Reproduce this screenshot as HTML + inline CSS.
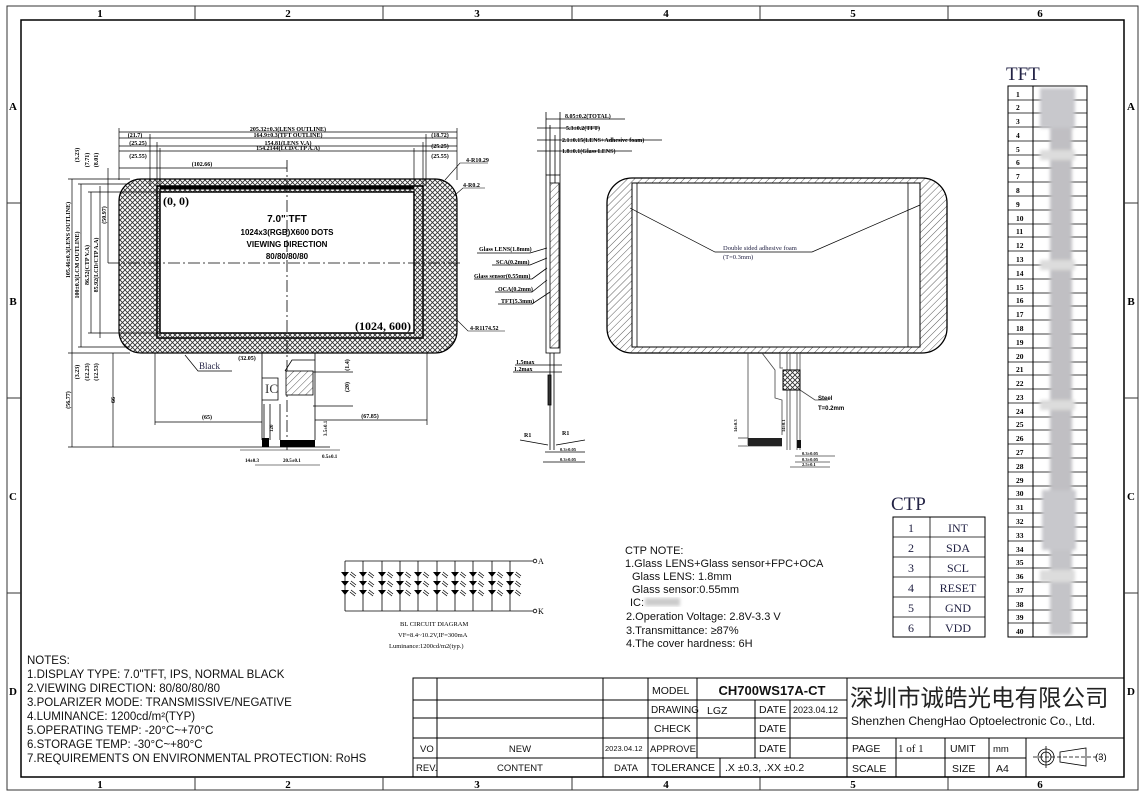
<!DOCTYPE html>
<html><head><meta charset="utf-8"><style>
html,body{margin:0;padding:0;background:#fff;}
svg{display:block;}
.s{font-family:"Liberation Serif",serif;}
.a{font-family:"Liberation Sans",sans-serif;}
</style></head><body>
<svg width="1145" height="801" viewBox="0 0 1145 801" xmlns="http://www.w3.org/2000/svg">
<defs>
<pattern id="xh" width="5" height="5" patternUnits="userSpaceOnUse">
<rect width="5" height="5" fill="#fff"/>
<path d="M0,0L5,5M5,0L0,5" stroke="#333" stroke-width="0.9"/>
</pattern>
<pattern id="hh" width="5" height="5" patternUnits="userSpaceOnUse" patternTransform="rotate(45)">
<rect width="5" height="5" fill="#fff"/>
<line x1="0" y1="0" x2="0" y2="5" stroke="#333" stroke-width="0.8"/>
</pattern>
<filter id="bl"><feGaussianBlur stdDeviation="1.5"/></filter>
</defs>

<!-- frame -->
<rect x="7" y="6" width="1131" height="784" fill="none" stroke="#333" stroke-width="1"/>
<rect x="21" y="20" width="1103" height="757" fill="none" stroke="#000" stroke-width="1.5"/>
<g stroke="#333" stroke-width="1">
<line x1="195" y1="6" x2="195" y2="20"/><line x1="383" y1="6" x2="383" y2="20"/><line x1="572" y1="6" x2="572" y2="20"/><line x1="760" y1="6" x2="760" y2="20"/><line x1="948" y1="6" x2="948" y2="20"/>
<line x1="195" y1="777" x2="195" y2="790"/><line x1="383" y1="777" x2="383" y2="790"/><line x1="572" y1="777" x2="572" y2="790"/><line x1="760" y1="777" x2="760" y2="790"/><line x1="948" y1="777" x2="948" y2="790"/>
<line x1="7" y1="203" x2="21" y2="203"/><line x1="7" y1="398" x2="21" y2="398"/><line x1="7" y1="593" x2="21" y2="593"/>
<line x1="1124" y1="203" x2="1138" y2="203"/><line x1="1124" y1="398" x2="1138" y2="398"/><line x1="1124" y1="593" x2="1138" y2="593"/>
</g>
<g class="s" font-size="11" font-weight="bold" text-anchor="middle">
<text x="100" y="17">1</text><text x="288" y="17">2</text><text x="477" y="17">3</text><text x="666" y="17">4</text><text x="853" y="17">5</text><text x="1040" y="17">6</text>
<text x="100" y="788">1</text><text x="288" y="788">2</text><text x="477" y="788">3</text><text x="666" y="788">4</text><text x="853" y="788">5</text><text x="1040" y="788">6</text>
<text x="13" y="110">A</text><text x="13" y="305">B</text><text x="13" y="500">C</text><text x="13" y="695">D</text>
<text x="1131" y="110">A</text><text x="1131" y="305">B</text><text x="1131" y="500">C</text><text x="1131" y="695">D</text>
</g>

<!-- LEFT FRONT VIEW -->
<rect x="119" y="179" width="338" height="174" rx="22" fill="url(#xh)" stroke="#000" stroke-width="1.2"/>
<rect x="157" y="186" width="266" height="152" fill="none" stroke="#000" stroke-width="1.5"/>
<rect x="160" y="192" width="254" height="141" fill="#fff" stroke="#000" stroke-width="1.5"/>
<line x1="160" y1="188" x2="414" y2="188" stroke="#000" stroke-width="3"/>
<line x1="287" y1="160" x2="287" y2="450" stroke="#000" stroke-width="0.8" stroke-dasharray="12,3,2,3"/>
<line x1="108" y1="263" x2="460" y2="263" stroke="#000" stroke-width="0.8" stroke-dasharray="12,3,2,3"/>
<g class="a" font-weight="bold" fill="#000">
<text x="163" y="205" font-size="12" class="s">(0, 0)</text>
<text x="287" y="222" font-size="10" text-anchor="middle">7.0" TFT</text>
<text x="287" y="235" font-size="8" text-anchor="middle">1024x3(RGB)X600 DOTS</text>
<text x="287" y="247" font-size="8" text-anchor="middle">VIEWING DIRECTION</text>
<text x="287" y="259" font-size="8" text-anchor="middle">80/80/80/80</text>
<text x="355" y="330" font-size="12" class="s">(1024, 600)</text>
</g>
<!-- top dims -->
<g stroke="#000" stroke-width="0.7">
<line x1="119" y1="132" x2="457" y2="132"/><line x1="119" y1="138" x2="457" y2="138"/>
<line x1="119" y1="146" x2="457" y2="146"/><line x1="119" y1="151" x2="457" y2="151"/>
<line x1="119" y1="168" x2="287" y2="168"/>
<line x1="119" y1="128" x2="119" y2="180"/><line x1="457" y1="128" x2="457" y2="180"/>
<line x1="150" y1="134" x2="150" y2="186"/><line x1="157" y1="142" x2="157" y2="190"/><line x1="160" y1="148" x2="160" y2="192"/>
<line x1="426" y1="134" x2="426" y2="186"/><line x1="423" y1="142" x2="423" y2="190"/><line x1="414" y1="148" x2="414" y2="192"/>
</g>
<g class="s" font-size="6" font-weight="bold" text-anchor="middle">
<text x="288" y="131">205.32±0.3(LENS OUTLINE)</text>
<text x="288" y="137">164.9±0.3(TFT OUTLINE)</text>
<text x="288" y="145">154.81(LENS V.A)</text>
<text x="288" y="150">154.2144(LCD/CTP A.A)</text>
<text x="202" y="166">(102.66)</text>
<text x="135" y="137">(21.7)</text><text x="138" y="145">(25.25)</text><text x="138" y="158">(25.55)</text>
<text x="440" y="137">(18.72)</text><text x="440" y="148">(25.25)</text><text x="440" y="158">(25.55)</text>
</g>
<!-- left dims -->
<g stroke="#000" stroke-width="0.7">
<line x1="72" y1="179" x2="72" y2="447"/><line x1="81" y1="184" x2="81" y2="347"/><line x1="91" y1="192" x2="91" y2="333"/>
<line x1="100" y1="186" x2="100" y2="338"/><line x1="108" y1="168" x2="108" y2="263"/>
<line x1="68" y1="179" x2="130" y2="179"/><line x1="78" y1="184" x2="130" y2="184"/><line x1="88" y1="192" x2="160" y2="192"/>
<line x1="68" y1="353" x2="130" y2="353"/><line x1="78" y1="347" x2="130" y2="347"/><line x1="88" y1="333" x2="160" y2="333"/>
<line x1="113" y1="353" x2="113" y2="447"/>
<line x1="68" y1="447" x2="330" y2="447"/>
<line x1="155" y1="422" x2="262" y2="422"/><line x1="315" y1="420" x2="427" y2="420"/>
<line x1="155" y1="353" x2="155" y2="425"/><line x1="427" y1="353" x2="427" y2="425"/>
</g>
<g class="s" font-size="6" font-weight="bold" text-anchor="middle">
<text transform="translate(70,240) rotate(-90)">105.46±0.3(LENS OUTLINE)</text>
<text transform="translate(79,265) rotate(-90)">100±0.3(LCM OUTLINE)</text>
<text transform="translate(89,265) rotate(-90)">86.52(CTP V.A)</text>
<text transform="translate(98,265) rotate(-90)">85.92(LCD/CTP A.A)</text>
<text transform="translate(106,215) rotate(-90)">(50.97)</text>
<text transform="translate(79,155) rotate(-90)">(3.23)</text>
<text transform="translate(89,160) rotate(-90)">(7.71)</text>
<text transform="translate(98,160) rotate(-90)">(8.01)</text>
<text transform="translate(79,372) rotate(-90)">(3.23)</text>
<text transform="translate(89,372) rotate(-90)">(12.23)</text>
<text transform="translate(98,372) rotate(-90)">(12.53)</text>
<text transform="translate(70,400) rotate(-90)">(56.77)</text>
<text transform="translate(115,400) rotate(-90)">66</text>
<text x="207" y="419">(65)</text><text x="370" y="418">(67.85)</text>
<text x="247" y="360">(32.05)</text>
<text transform="translate(349,365) rotate(-90)">(1.4)</text>
<text transform="translate(349,387) rotate(-90)">(20)</text>
</g>
<!-- FPC front -->
<g stroke="#000" stroke-width="0.8" fill="none">
<polyline points="262,353 262,440"/><polyline points="315,353 315,440"/>
<polyline points="262,378 278,378 278,400 262,400"/>
<rect x="286" y="371" width="27" height="24" fill="url(#hh)"/>
<line x1="313" y1="372" x2="353" y2="372"/><line x1="313" y1="406" x2="353" y2="406"/>
<polyline points="285,371 292,360 315,360"/>
<line x1="264" y1="404" x2="264" y2="440"/><line x1="270" y1="404" x2="270" y2="440"/>
<line x1="280" y1="404" x2="280" y2="440"/>
</g>
<rect x="262" y="438" width="7" height="9" fill="#000"/>
<rect x="280" y="440" width="35" height="7" fill="#000"/>
<text x="265" y="393" class="s" font-size="13" fill="#333">IC</text>
<g class="s" font-size="5" font-weight="bold">
<text x="245" y="462">14±0.3</text><text x="283" y="462">20.5±0.1</text><text x="322" y="458">0.5±0.1</text>
<text transform="translate(273,432) rotate(-90)">120</text><text transform="translate(327,436) rotate(-90)">3.5±0.1</text>
</g>
<g stroke="#000" stroke-width="0.6"><line x1="240" y1="450" x2="340" y2="450"/><line x1="255" y1="465" x2="320" y2="465"/></g>
<!-- black leader -->
<polyline points="185,355 198,371 232,371" fill="none" stroke="#000" stroke-width="0.7"/>
<text x="199" y="369" class="s" font-size="9" fill="#224">Black</text>
<!-- radius leaders -->
<g stroke="#000" stroke-width="0.6" fill="none">
<polyline points="445,180 460,163 488,163"/><polyline points="455,195 463,188 485,188"/><polyline points="457,320 468,331 505,331"/>
</g>
<g class="s" font-size="6" font-weight="bold">
<text x="466" y="162">4-R10.29</text><text x="463" y="187">4-R0.2</text><text x="470" y="330">4-R1174.52</text>
</g>

<!-- SIDE VIEW -->
<g stroke="#000" stroke-width="0.8" fill="none">
<rect x="546" y="175" width="14" height="178"/>
<rect x="550" y="183" width="9" height="165" fill="url(#hh)"/>
<line x1="546" y1="112" x2="546" y2="175"/><line x1="560" y1="112" x2="560" y2="175"/>
<line x1="550" y1="125" x2="550" y2="183"/><line x1="555" y1="135" x2="555" y2="183"/>
<line x1="546" y1="119" x2="625" y2="119"/><line x1="537" y1="128" x2="600" y2="128"/>
<line x1="537" y1="140" x2="662" y2="140"/><line x1="537" y1="151" x2="632" y2="151"/>
<line x1="550" y1="353" x2="550" y2="450"/><line x1="554" y1="353" x2="554" y2="450"/>
<rect x="548" y="375" width="3" height="30" fill="#333"/>
<line x1="515" y1="365" x2="562" y2="365"/><line x1="513" y1="372" x2="562" y2="372"/>
<polyline points="520,440 548,445"/><polyline points="585,440 556,445"/>
<line x1="545" y1="452" x2="585" y2="452"/><line x1="543" y1="462" x2="585" y2="462"/>
<polyline points="477,253 530,253 547,248"/><polyline points="492,265 530,265 547,258"/>
<polyline points="474,279 532,279 547,268"/><polyline points="495,292 532,292 547,280"/>
<polyline points="498,304 532,304 550,292"/>
</g>
<g class="s" font-size="6" font-weight="bold">
<text x="565" y="118">8.05±0.2(TOTAL)</text><text x="566" y="130">5.3±0.2(TFT)</text>
<text x="562" y="142">2.1±0.15(LENS+Adhesive foam)</text><text x="562" y="153">1.8±0.1(Glass LENS)</text>
<text x="479" y="251">Glass LENS(1.8mm)</text><text x="496" y="264">SCA(0.2mm)</text>
<text x="474" y="278">Glass sensor(0.55mm)</text><text x="498" y="291">OCA(0.2mm)</text><text x="501" y="303">TFT(5.3mm)</text>
<text x="516" y="364">1.5max</text><text x="514" y="371">1.2max</text>
<text x="524" y="437">R1</text><text x="562" y="435">R1</text>
<text x="560" y="451" font-size="4.5">0.3±0.05</text><text x="560" y="461" font-size="4.5">0.3±0.05</text>
</g>

<!-- REAR VIEW -->
<rect x="607" y="178" width="340" height="175" rx="25" fill="url(#hh)" stroke="#000" stroke-width="1.3"/>
<rect x="632" y="183" width="288" height="164" fill="#fff" stroke="#000" stroke-width="1"/>
<line x1="637" y1="183" x2="637" y2="347" stroke="#000" stroke-width="0.8"/>
<line x1="908" y1="183" x2="908" y2="347" stroke="#000" stroke-width="0.8"/>
<polyline points="630,208 715,252 812,252 920,205" fill="none" stroke="#000" stroke-width="0.7"/>
<text x="723" y="250" class="s" font-size="6.5" fill="#224">Double sided adhesive foam</text>
<text x="723" y="259" class="s" font-size="6.5" fill="#224">(T=0.3mm)</text>
<g stroke="#444" stroke-width="0.8" fill="none">
<line x1="748" y1="353" x2="748" y2="445"/>
<polyline points="762,353 775,370 775,398 782,400 782,435"/>
<polyline points="780,353 780,368 783,368"/>
<line x1="787" y1="353" x2="787" y2="450"/><line x1="790" y1="353" x2="790" y2="450"/><line x1="797" y1="353" x2="797" y2="450"/><line x1="800" y1="353" x2="800" y2="450"/>
<polyline points="800,390 815,400 828,400"/>
<line x1="738" y1="438" x2="748" y2="438"/><line x1="738" y1="446" x2="782" y2="446"/>
<line x1="795" y1="456" x2="835" y2="456"/><line x1="795" y1="462" x2="830" y2="462"/><line x1="790" y1="467" x2="830" y2="467"/>
</g>
<rect x="783" y="370" width="17" height="20" fill="url(#xh)" stroke="#000"/>
<rect x="748" y="438" width="34" height="8" fill="#222"/>
<rect x="797" y="440" width="4" height="8" fill="#111"/>
<g class="a" font-size="6" font-weight="bold">
<text x="818" y="400">Steel</text><text x="818" y="410">T=0.2mm</text>
</g>
<g class="s" font-size="4.5" font-weight="bold">
<text transform="translate(737,432) rotate(-90)">14±0.3</text><text transform="translate(785,432) rotate(-90)">14±0.1</text>
<text x="802" y="455">0.3±0.05</text><text x="802" y="461">0.3±0.05</text><text x="802" y="466">2.5±0.1</text>
</g>

<!-- TFT TABLE -->
<text x="1006" y="80" class="s" font-size="19" fill="#224">TFT</text>
<rect x="1008" y="86" width="79" height="551" fill="none" stroke="#000" stroke-width="1"/>
<line x1="1033" y1="86" x2="1033" y2="637" stroke="#000" stroke-width="1"/>
<g stroke="#000" stroke-width="0.8">
<line x1="1008" y1="100" x2="1087" y2="100"/><line x1="1008" y1="113" x2="1087" y2="113"/><line x1="1008" y1="127" x2="1087" y2="127"/><line x1="1008" y1="141" x2="1087" y2="141"/><line x1="1008" y1="155" x2="1087" y2="155"/><line x1="1008" y1="168" x2="1087" y2="168"/><line x1="1008" y1="182" x2="1087" y2="182"/><line x1="1008" y1="196" x2="1087" y2="196"/><line x1="1008" y1="210" x2="1087" y2="210"/><line x1="1008" y1="224" x2="1087" y2="224"/><line x1="1008" y1="237" x2="1087" y2="237"/><line x1="1008" y1="251" x2="1087" y2="251"/><line x1="1008" y1="265" x2="1087" y2="265"/><line x1="1008" y1="279" x2="1087" y2="279"/><line x1="1008" y1="293" x2="1087" y2="293"/><line x1="1008" y1="306" x2="1087" y2="306"/><line x1="1008" y1="320" x2="1087" y2="320"/><line x1="1008" y1="334" x2="1087" y2="334"/><line x1="1008" y1="348" x2="1087" y2="348"/><line x1="1008" y1="362" x2="1087" y2="362"/><line x1="1008" y1="375" x2="1087" y2="375"/><line x1="1008" y1="389" x2="1087" y2="389"/><line x1="1008" y1="403" x2="1087" y2="403"/><line x1="1008" y1="417" x2="1087" y2="417"/><line x1="1008" y1="430" x2="1087" y2="430"/><line x1="1008" y1="444" x2="1087" y2="444"/><line x1="1008" y1="458" x2="1087" y2="458"/><line x1="1008" y1="472" x2="1087" y2="472"/><line x1="1008" y1="486" x2="1087" y2="486"/><line x1="1008" y1="499" x2="1087" y2="499"/><line x1="1008" y1="513" x2="1087" y2="513"/><line x1="1008" y1="527" x2="1087" y2="527"/><line x1="1008" y1="541" x2="1087" y2="541"/><line x1="1008" y1="555" x2="1087" y2="555"/><line x1="1008" y1="568" x2="1087" y2="568"/><line x1="1008" y1="582" x2="1087" y2="582"/><line x1="1008" y1="596" x2="1087" y2="596"/><line x1="1008" y1="610" x2="1087" y2="610"/><line x1="1008" y1="623" x2="1087" y2="623"/>
</g>
<g filter="url(#bl)">
<rect x="1040" y="88" width="35" height="40" fill="#c8c8cc"/>
<rect x="1050" y="128" width="22" height="380" fill="#c0bfc3"/>
<rect x="1040" y="150" width="35" height="10" fill="#dcdcdc"/>
<rect x="1040" y="260" width="35" height="10" fill="#dcdcdc"/>
<rect x="1040" y="400" width="35" height="10" fill="#dcdcdc"/>
<rect x="1042" y="490" width="34" height="60" fill="#c8c8cc"/>
<rect x="1050" y="550" width="22" height="85" fill="#c4c4c8"/>
<rect x="1040" y="570" width="35" height="12" fill="#dcdcdc"/>
</g>
<g class="s" font-size="7.5" font-weight="bold">
<text x="1016" y="97">1</text><text x="1016" y="110">2</text><text x="1016" y="124">3</text><text x="1016" y="138">4</text><text x="1016" y="152">5</text><text x="1016" y="165">6</text><text x="1016" y="179">7</text><text x="1016" y="193">8</text><text x="1016" y="207">9</text><text x="1016" y="221">10</text><text x="1016" y="234">11</text><text x="1016" y="248">12</text><text x="1016" y="262">13</text><text x="1016" y="276">14</text><text x="1016" y="290">15</text><text x="1016" y="303">16</text><text x="1016" y="317">17</text><text x="1016" y="331">18</text><text x="1016" y="345">19</text><text x="1016" y="359">20</text><text x="1016" y="372">21</text><text x="1016" y="386">22</text><text x="1016" y="400">23</text><text x="1016" y="414">24</text><text x="1016" y="427">25</text><text x="1016" y="441">26</text><text x="1016" y="455">27</text><text x="1016" y="469">28</text><text x="1016" y="483">29</text><text x="1016" y="496">30</text><text x="1016" y="510">31</text><text x="1016" y="524">32</text><text x="1016" y="538">33</text><text x="1016" y="552">34</text><text x="1016" y="565">35</text><text x="1016" y="579">36</text><text x="1016" y="593">37</text><text x="1016" y="607">38</text><text x="1016" y="620">39</text><text x="1016" y="634">40</text>
</g>

<!-- CTP TABLE -->
<text x="891" y="510" class="s" font-size="19" fill="#224">CTP</text>
<rect x="893" y="517" width="92" height="120" fill="none" stroke="#000" stroke-width="1"/>
<g stroke="#000" stroke-width="0.8">
<line x1="930" y1="517" x2="930" y2="637"/>
<line x1="893" y1="537" x2="985" y2="537"/><line x1="893" y1="557" x2="985" y2="557"/><line x1="893" y1="577" x2="985" y2="577"/><line x1="893" y1="597" x2="985" y2="597"/><line x1="893" y1="617" x2="985" y2="617"/>
</g>
<g class="s" font-size="12" text-anchor="middle" fill="#224">
<text x="911" y="532">1</text><text x="911" y="552">2</text><text x="911" y="572">3</text><text x="911" y="592">4</text><text x="911" y="612">5</text><text x="911" y="632">6</text>
<text x="958" y="532">INT</text><text x="958" y="552">SDA</text><text x="958" y="572">SCL</text><text x="958" y="592">RESET</text><text x="958" y="612">GND</text><text x="958" y="632">VDD</text>
</g>

<!-- BL CIRCUIT -->
<g stroke="#000" stroke-width="0.8" fill="none">
<line x1="345" y1="561" x2="533" y2="561"/><line x1="345" y1="611" x2="533" y2="611"/>
<circle cx="535" cy="561" r="1.8"/><circle cx="535" cy="611" r="1.8"/>
<line x1="345" y1="561" x2="345" y2="611"/><line x1="363" y1="561" x2="363" y2="611"/><line x1="382" y1="561" x2="382" y2="611"/><line x1="400" y1="561" x2="400" y2="611"/><line x1="418" y1="561" x2="418" y2="611"/><line x1="437" y1="561" x2="437" y2="611"/><line x1="455" y1="561" x2="455" y2="611"/><line x1="473" y1="561" x2="473" y2="611"/><line x1="492" y1="561" x2="492" y2="611"/><line x1="510" y1="561" x2="510" y2="611"/>
</g>
<g id="ds" fill="#000">
<path d="M341,572h8l-4,5z M341,581h8l-4,5z M341,590h8l-4,5z"/>
<path d="M350,574l5,4M351,572l5,4M350,583l5,4M351,581l5,4M350,592l5,4M351,590l5,4" stroke="#000" stroke-width="0.8"/>
</g>
<use href="#ds" x="18"/><use href="#ds" x="37"/><use href="#ds" x="55"/><use href="#ds" x="73"/><use href="#ds" x="92"/><use href="#ds" x="110"/><use href="#ds" x="128"/><use href="#ds" x="147"/><use href="#ds" x="165"/>
<g class="s" font-size="8">
<text x="538" y="564">A</text><text x="538" y="614">K</text>
<text x="400" y="626" font-size="6.5">BL CIRCUIT DIAGRAM</text>
<text x="398" y="637" font-size="6.5">VF=8.4~10.2V,IF=300mA</text>
<text x="389" y="648" font-size="6.5">Luminance:1200cd/m2(typ.)</text>
</g>

<!-- CTP NOTE -->
<g class="a" font-size="11" fill="#111">
<text x="625" y="554">CTP NOTE:</text>
<text x="625" y="567">1.Glass LENS+Glass sensor+FPC+OCA</text>
<text x="632" y="580">Glass LENS: 1.8mm</text>
<text x="632" y="593">Glass sensor:0.55mm</text>
<text x="630" y="606">IC:</text>
<text x="626" y="620">2.Operation Voltage: 2.8V-3.3 V</text>
<text x="626" y="634">3.Transmittance: ≥87%</text>
<text x="626" y="647">4.The cover hardness: 6H</text>
</g>
<rect x="645" y="598" width="35" height="8" fill="#ccc" filter="url(#bl)"/>

<!-- NOTES -->
<g class="a" font-size="11.5" fill="#111">
<text x="27" y="664">NOTES:</text>
<text x="27" y="678">1.DISPLAY TYPE:  7.0"TFT, IPS, NORMAL BLACK</text>
<text x="27" y="692">2.VIEWING DIRECTION: 80/80/80/80</text>
<text x="27" y="706">3.POLARIZER MODE: TRANSMISSIVE/NEGATIVE</text>
<text x="27" y="720">4.LUMINANCE: 1200cd/m²(TYP)</text>
<text x="27" y="734">5.OPERATING TEMP: -20°C~+70°C</text>
<text x="27" y="748">6.STORAGE TEMP: -30°C~+80°C</text>
<text x="27" y="762">7.REQUIREMENTS ON ENVIRONMENTAL PROTECTION: RoHS</text>
</g>

<!-- TITLE BLOCK -->
<g stroke="#000" stroke-width="1" fill="none">
<rect x="413" y="678" width="711" height="99"/>
<line x1="413" y1="700" x2="847" y2="700"/><line x1="413" y1="718" x2="847" y2="718"/>
<line x1="413" y1="738" x2="1124" y2="738"/><line x1="413" y1="758" x2="1026" y2="758"/>
<line x1="437" y1="678" x2="437" y2="777"/><line x1="603" y1="678" x2="603" y2="777"/>
<line x1="648" y1="678" x2="648" y2="777"/><line x1="697" y1="678" x2="697" y2="758"/>
<line x1="720" y1="758" x2="720" y2="777"/>
<line x1="755" y1="700" x2="755" y2="758"/><line x1="790" y1="700" x2="790" y2="758"/>
<line x1="847" y1="678" x2="847" y2="777"/>
<line x1="896" y1="738" x2="896" y2="777"/><line x1="945" y1="738" x2="945" y2="777"/>
<line x1="989" y1="738" x2="989" y2="777"/><line x1="1026" y1="738" x2="1026" y2="777"/>
</g>
<g class="a" font-size="10.5" fill="#111">
<text x="652" y="694">MODEL</text>
<text x="772" y="695" font-size="13" font-weight="bold" text-anchor="middle">CH700WS17A-CT</text>
<text x="651" y="713" font-size="10">DRAWING</text><text x="707" y="714">LGZ</text>
<text x="759" y="713">DATE</text><text x="793" y="713" font-size="9">2023.04.12</text>
<text x="654" y="732">CHECK</text><text x="759" y="732">DATE</text>
<text x="420" y="752" font-size="9.5">VO</text><text x="520" y="752" font-size="9.5" text-anchor="middle">NEW</text>
<text x="605" y="751" font-size="7.5">2023.04.12</text><text x="650" y="752" font-size="9.5">APPROVE</text>
<text x="759" y="752">DATE</text>
<text x="416" y="771" font-size="9.5">REV.</text><text x="520" y="771" font-size="9.5" text-anchor="middle">CONTENT</text>
<text x="614" y="771" font-size="9.5">DATA</text><text x="651" y="771">TOLERANCE</text>
<text x="725" y="771">.X ±0.3, .XX ±0.2</text>
<text x="852" y="752">PAGE</text><text x="898" y="752" class="s" font-size="11">1 of 1</text>
<text x="950" y="752">UMIT</text><text x="993" y="752" font-size="9.5">mm</text>
<text x="852" y="772">SCALE</text><text x="952" y="772">SIZE</text><text x="996" y="772">A4</text>
<text x="850" y="706" font-family="'Liberation Sans','Noto Sans CJK SC',sans-serif" font-size="23.5" fill="#222">深圳市诚皓光电有限公司</text>
<text x="851" y="725" font-size="12">Shenzhen ChengHao Optoelectronic Co., Ltd.</text>
</g>
<g stroke="#000" stroke-width="0.8" fill="none">
<circle cx="1046" cy="757" r="8"/><circle cx="1046" cy="757" r="5"/>
<line x1="1033" y1="757" x2="1100" y2="757" stroke-dasharray="4,2"/><line x1="1046" y1="746" x2="1046" y2="768"/>
<polygon points="1060,752 1086,748 1086,766 1060,762"/>
</g>
<text x="1095" y="760" class="a" font-size="9.5">(3)</text>
</svg>
</body></html>
